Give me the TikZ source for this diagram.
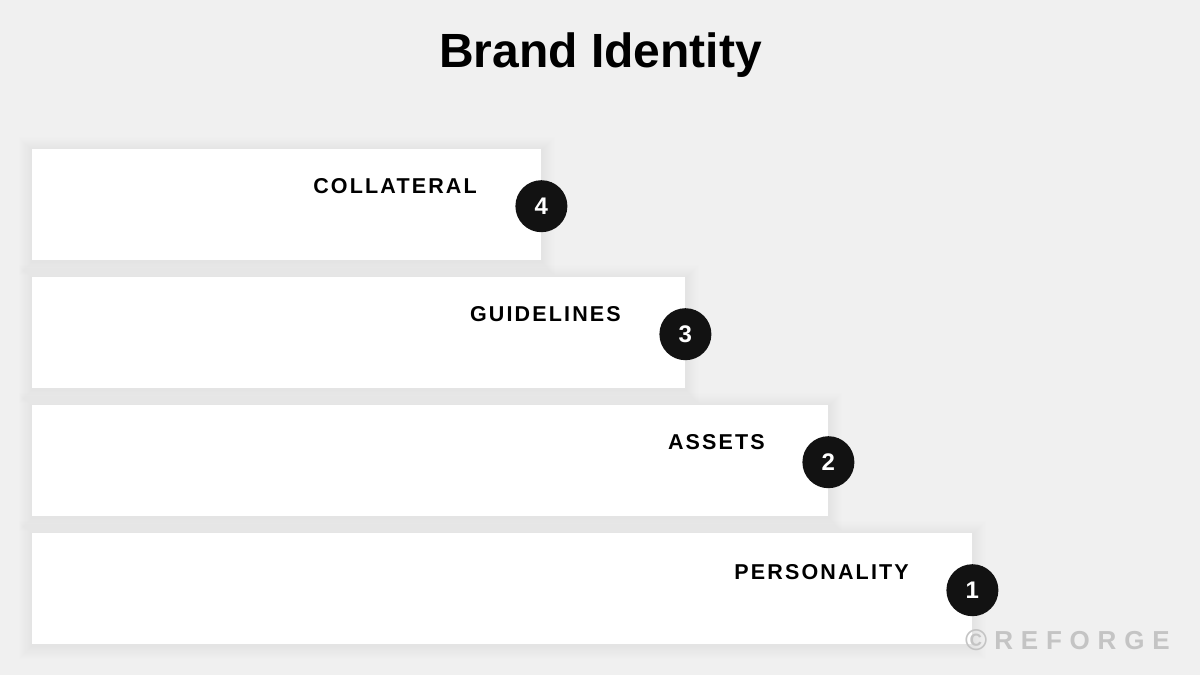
\documentclass[tikz,border=0pt]{standalone}
\usepackage{fontspec}
\setmainfont{Liberation Sans}
\newfontfamily\labfont[LetterSpace=10]{Liberation Sans}
\newfontfamily\wmfont[LetterSpace=30]{Liberation Sans}
\usetikzlibrary{backgrounds}
\definecolor{bg}{RGB}{240,240,240}
\definecolor{wm}{RGB}{196,196,196}
\definecolor{dot}{RGB}{18,18,18}
\begin{document}
\begin{tikzpicture}[x=1pt,y=-1pt,
  bar/.style={fill=white, draw=none, inner sep=0pt, minimum height=111pt, anchor=north west},
  lab/.style={anchor=base east, inner sep=0pt, font=\labfont\bfseries\fontsize{21.5}{25}\selectfont},
  num/.style={circle, fill=dot, minimum size=52pt, inner sep=0pt, text=white,
    font=\bfseries\fontsize{24}{28}\selectfont},
  shade/.style={fill=black, opacity=0.005},
]
\useasboundingbox (0,0) rectangle (1200,675);

\node[anchor=base, inner sep=0pt, font=\bfseries\fontsize{48}{52}\selectfont] (title) at (600.5,67) {Brand Identity};

\node[bar, minimum width=509pt] (b4) at (32,149) {};
\node[bar, minimum width=653pt] (b3) at (32,277) {};
\node[bar, minimum width=796pt] (b2) at (32,405) {};
\node[bar, minimum width=940pt] (b1) at (32,533) {};

\begin{scope}[on background layer]
  \fill[bg] (0,0) rectangle (1200,675);
  \foreach \b in {b1,b2,b3,b4}{
    \foreach \i in {1,...,12}{
      \fill[shade] ([shift={(-1.1*\i,-1.1*\i+1.5)}]\b.north west) rectangle ([shift={(1.1*\i,1.1*\i+1.5)}]\b.south east);
    }
  }
\end{scope}

\node[lab] (l4) at (477,193) {COLLATERAL};
\node[lab] (l3) at (621,321) {GUIDELINES};
\node[lab] (l2) at (765,449) {ASSETS};
\node[lab] (l1) at (909,579) {PERSONALITY};

\node[num] (n4) at ([yshift=-1.5pt]b4.east) {4};
\node[num] (n3) at ([yshift=-1.5pt]b3.east) {3};
\node[num] (n2) at ([yshift=-1.5pt]b2.east) {2};
\node[num] (n1) at ([yshift=-1.5pt]b1.east) {1};

\node[anchor=base west, inner sep=0pt, text=wm, font=\wmfont\bfseries\fontsize{26}{30}\selectfont] (wm) at (965,649) {{\fontsize{30}{30}\selectfont\raisebox{-1pt}{©}}\hspace{7pt}REFORGE};
\end{tikzpicture}
\end{document}
